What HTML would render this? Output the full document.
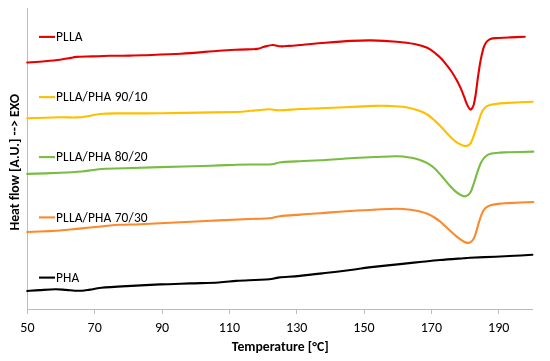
<!DOCTYPE html>
<html><head><meta charset="utf-8"><title>DSC</title>
<style>
html,body{margin:0;padding:0;background:#fff;}
svg{display:block;}
text{font-family:Carlito,"Liberation Sans",sans-serif;fill:#000;font-variant-ligatures:none;font-feature-settings:"liga" 0;}
</style></head>
<body>
<svg width="550" height="361" viewBox="0 0 550 361">
<rect width="550" height="361" fill="#fff"/>
<g stroke="#bcbcbc" stroke-width="1" shape-rendering="crispEdges">
<line x1="27.5" y1="8" x2="27.5" y2="310" />
<line x1="27" y1="309.5" x2="533" y2="309.5" />
<line x1="27.5" y1="309" x2="27.5" y2="314" />
<line x1="94.5" y1="309" x2="94.5" y2="314" />
<line x1="162.5" y1="309" x2="162.5" y2="314" />
<line x1="229.5" y1="309" x2="229.5" y2="314" />
<line x1="296.5" y1="309" x2="296.5" y2="314" />
<line x1="364.5" y1="309" x2="364.5" y2="314" />
<line x1="431.5" y1="309" x2="431.5" y2="314" />
<line x1="498.5" y1="309" x2="498.5" y2="314" />
</g>
<g font-size="14" text-anchor="middle">
<text x="27.4" y="331.6" textLength="14.2" lengthAdjust="spacingAndGlyphs">50</text>
<text x="94.7" y="331.6" textLength="14.2" lengthAdjust="spacingAndGlyphs">70</text>
<text x="162.1" y="331.6" textLength="14.2" lengthAdjust="spacingAndGlyphs">90</text>
<text x="229.4" y="331.6" textLength="21.3" lengthAdjust="spacingAndGlyphs">110</text>
<text x="296.7" y="331.6" textLength="21.3" lengthAdjust="spacingAndGlyphs">130</text>
<text x="364.0" y="331.6" textLength="21.3" lengthAdjust="spacingAndGlyphs">150</text>
<text x="431.4" y="331.6" textLength="21.3" lengthAdjust="spacingAndGlyphs">170</text>
<text x="498.7" y="331.6" textLength="21.3" lengthAdjust="spacingAndGlyphs">190</text>
</g>
<path d="M27.20,291.00 C29.33,290.85 35.28,290.38 40.00,290.10 C44.72,289.82 51.17,289.33 55.50,289.30 C59.83,289.27 62.17,289.65 66.00,289.90 C69.83,290.15 74.50,290.85 78.50,290.80 C82.50,290.75 86.18,290.10 90.00,289.60 C93.82,289.10 95.27,288.38 101.40,287.80 C107.53,287.22 117.03,286.67 126.80,286.10 C136.57,285.53 149.47,284.85 160.00,284.40 C170.53,283.95 180.25,283.72 190.00,283.40 C199.75,283.08 210.77,282.92 218.50,282.50 C226.23,282.08 230.32,281.32 236.40,280.90 C242.48,280.48 249.50,280.27 255.00,280.00 C260.50,279.73 265.30,279.73 269.40,279.30 C273.50,278.87 274.50,277.97 279.60,277.40 C284.70,276.83 292.05,276.67 300.00,275.90 C307.95,275.13 318.22,273.87 327.30,272.80 C336.38,271.73 347.55,270.40 354.50,269.50 C361.45,268.60 361.42,268.30 369.00,267.40 C376.58,266.50 391.50,265.00 400.00,264.10 C408.50,263.20 413.33,262.68 420.00,262.00 C426.67,261.32 432.73,260.63 440.00,260.00 C447.27,259.37 458.60,258.58 463.60,258.20 C468.60,257.82 464.68,257.95 470.00,257.70 C475.32,257.45 488.08,257.02 495.50,256.70 C502.92,256.38 508.35,256.12 514.50,255.80 C520.65,255.48 529.42,254.97 532.40,254.80" fill="none" stroke="#000000" stroke-width="2.1" stroke-linejoin="round" stroke-linecap="round"/>
<path d="M27.20,232.00 C31.00,231.85 44.53,231.35 50.00,231.10 C55.47,230.85 55.60,230.87 60.00,230.50 C64.40,230.13 71.85,229.35 76.40,228.90 C80.95,228.45 82.77,228.25 87.30,227.80 C91.83,227.35 98.15,226.70 103.60,226.20 C109.05,225.70 113.93,225.13 120.00,224.80 C126.07,224.47 132.50,224.50 140.00,224.20 C147.50,223.90 153.18,223.57 165.00,223.00 C176.82,222.43 196.90,221.47 210.90,220.80 C224.90,220.13 239.25,219.42 249.00,219.00 C258.75,218.58 264.30,218.77 269.40,218.30 C274.50,217.83 274.50,216.82 279.60,216.20 C284.70,215.58 293.18,215.08 300.00,214.60 C306.82,214.12 312.85,213.87 320.50,213.30 C328.15,212.73 336.82,211.82 345.90,211.20 C354.98,210.58 366.52,210.02 375.00,209.60 C383.48,209.18 390.63,208.63 396.80,208.70 C402.97,208.77 408.13,209.52 412.00,210.00 C415.87,210.48 417.45,210.97 420.00,211.60 C422.55,212.23 424.88,212.82 427.30,213.80 C429.72,214.78 432.32,216.17 434.50,217.50 C436.68,218.83 437.97,219.75 440.40,221.80 C442.83,223.85 446.43,227.37 449.10,229.80 C451.77,232.23 453.98,234.45 456.40,236.40 C458.82,238.35 461.55,240.42 463.60,241.50 C465.65,242.58 467.23,243.03 468.70,242.90 C470.17,242.77 471.30,242.03 472.40,240.70 C473.50,239.37 474.33,237.57 475.30,234.90 C476.27,232.23 477.12,228.22 478.20,224.70 C479.28,221.18 480.58,216.58 481.80,213.80 C483.02,211.02 483.92,209.45 485.50,208.00 C487.08,206.55 488.88,205.83 491.30,205.10 C493.72,204.37 497.13,203.93 500.00,203.60 C502.87,203.27 502.95,203.37 508.50,203.10 C514.05,202.83 529.17,202.18 533.30,202.00" fill="none" stroke="#fb8a2c" stroke-width="2.1" stroke-linejoin="round" stroke-linecap="round"/>
<path d="M27.20,173.90 C32.67,173.72 50.90,173.20 60.00,172.80 C69.10,172.40 76.35,171.97 81.80,171.50 C87.25,171.03 88.70,170.47 92.70,170.00 C96.70,169.53 100.42,168.98 105.80,168.70 C111.18,168.42 115.97,168.57 125.00,168.30 C134.03,168.03 145.68,167.52 160.00,167.10 C174.32,166.68 198.17,166.18 210.90,165.80 C223.63,165.42 229.05,165.02 236.40,164.80 C243.75,164.58 249.07,164.58 255.00,164.50 C260.93,164.42 267.90,164.63 272.00,164.30 C276.10,163.97 274.93,163.02 279.60,162.50 C284.27,161.98 293.18,161.57 300.00,161.20 C306.82,160.83 312.85,160.75 320.50,160.30 C328.15,159.85 336.82,159.05 345.90,158.50 C354.98,157.95 366.52,157.38 375.00,157.00 C383.48,156.62 390.97,156.12 396.80,156.20 C402.63,156.28 406.13,156.88 410.00,157.50 C413.87,158.12 417.12,158.97 420.00,159.90 C422.88,160.83 424.88,161.72 427.30,163.10 C429.72,164.48 432.08,166.02 434.50,168.20 C436.92,170.38 439.37,173.42 441.80,176.20 C444.23,178.98 446.67,182.23 449.10,184.90 C451.53,187.57 453.98,190.30 456.40,192.20 C458.82,194.10 461.67,195.82 463.60,196.30 C465.53,196.78 466.78,195.90 468.00,195.10 C469.22,194.30 469.93,193.43 470.90,191.50 C471.87,189.57 472.70,186.78 473.80,183.50 C474.90,180.22 476.28,175.32 477.50,171.80 C478.72,168.28 479.77,164.95 481.10,162.40 C482.43,159.85 483.80,157.97 485.50,156.50 C487.20,155.03 488.88,154.25 491.30,153.60 C493.72,152.95 497.13,152.82 500.00,152.60 C502.87,152.38 502.95,152.47 508.50,152.30 C514.05,152.13 529.17,151.72 533.30,151.60" fill="none" stroke="#78bc42" stroke-width="2.1" stroke-linejoin="round" stroke-linecap="round"/>
<path d="M27.20,118.20 C32.67,118.05 51.80,117.43 60.00,117.30 C68.20,117.17 71.85,117.58 76.40,117.40 C80.95,117.22 84.22,116.63 87.30,116.20 C90.38,115.77 92.18,115.22 94.90,114.80 C97.62,114.38 99.42,113.93 103.60,113.70 C107.78,113.47 110.60,113.47 120.00,113.40 C129.40,113.33 146.97,113.43 160.00,113.30 C173.03,113.17 185.47,112.82 198.20,112.60 C210.93,112.38 228.35,112.22 236.40,112.00 C244.45,111.78 243.12,111.58 246.50,111.30 C249.88,111.02 252.88,110.63 256.70,110.30 C260.52,109.97 265.58,109.30 269.40,109.30 C273.22,109.30 274.50,110.35 279.60,110.30 C284.70,110.25 293.18,109.35 300.00,109.00 C306.82,108.65 313.00,108.50 320.50,108.20 C328.00,107.90 335.92,107.58 345.00,107.20 C354.08,106.82 367.92,106.12 375.00,105.90 C382.08,105.68 382.52,105.72 387.50,105.90 C392.48,106.08 399.48,106.17 404.90,107.00 C410.32,107.83 416.27,109.65 420.00,110.90 C423.73,112.15 424.88,112.92 427.30,114.50 C429.72,116.08 432.08,118.22 434.50,120.40 C436.92,122.58 439.37,125.07 441.80,127.60 C444.23,130.13 446.67,133.17 449.10,135.60 C451.53,138.03 453.98,140.50 456.40,142.20 C458.82,143.90 461.67,145.27 463.60,145.80 C465.53,146.33 466.78,145.88 468.00,145.40 C469.22,144.92 469.93,144.53 470.90,142.90 C471.87,141.27 472.70,138.63 473.80,135.60 C474.90,132.57 476.28,128.33 477.50,124.70 C478.72,121.07 479.90,116.58 481.10,113.80 C482.30,111.02 483.25,109.45 484.70,108.00 C486.15,106.55 487.25,105.87 489.80,105.10 C492.35,104.33 496.88,103.77 500.00,103.40 C503.12,103.03 503.05,103.18 508.50,102.90 C513.95,102.62 528.67,101.90 532.70,101.70" fill="none" stroke="#ffbf00" stroke-width="2.1" stroke-linejoin="round" stroke-linecap="round"/>
<path d="M27.20,62.50 C30.17,62.28 39.53,61.67 45.00,61.20 C50.47,60.73 55.68,60.25 60.00,59.70 C64.32,59.15 68.17,58.37 70.90,57.90 C73.63,57.43 72.77,57.15 76.40,56.90 C80.03,56.65 87.25,56.58 92.70,56.40 C98.15,56.22 104.55,55.92 109.10,55.80 C113.65,55.68 116.52,55.73 120.00,55.70 C123.48,55.67 126.17,55.68 130.00,55.60 C133.83,55.52 134.52,55.50 143.00,55.20 C151.48,54.90 168.23,54.55 180.90,53.80 C193.57,53.05 209.15,51.40 219.00,50.70 C228.85,50.00 233.62,49.90 240.00,49.60 C246.38,49.30 253.30,49.37 257.30,48.90 C261.30,48.43 261.43,47.45 264.00,46.80 C266.57,46.15 269.97,45.08 272.70,45.00 C275.43,44.92 277.67,46.15 280.40,46.30 C283.13,46.45 285.83,46.12 289.10,45.90 C292.37,45.68 293.95,45.53 300.00,45.00 C306.05,44.47 316.92,43.38 325.40,42.70 C333.88,42.02 343.27,41.28 350.90,40.90 C358.53,40.52 363.57,40.27 371.20,40.40 C378.83,40.53 389.48,41.10 396.70,41.70 C403.92,42.30 409.42,42.98 414.50,44.00 C419.58,45.02 423.62,46.17 427.20,47.80 C430.78,49.43 433.67,52.00 436.00,53.80 C438.33,55.60 439.48,56.80 441.20,58.60 C442.92,60.40 444.58,62.45 446.30,64.60 C448.02,66.75 449.78,68.93 451.50,71.50 C453.22,74.07 455.03,77.15 456.60,80.00 C458.17,82.85 459.62,85.73 460.90,88.60 C462.18,91.47 463.30,94.62 464.30,97.20 C465.30,99.78 465.92,102.05 466.90,104.10 C467.88,106.15 469.33,108.83 470.20,109.50 C471.07,110.17 471.50,108.93 472.10,108.10 C472.70,107.27 473.22,106.68 473.80,104.50 C474.38,102.32 474.92,99.47 475.60,95.00 C476.28,90.53 477.10,83.28 477.90,77.70 C478.70,72.12 479.50,66.35 480.40,61.50 C481.30,56.65 482.43,51.63 483.30,48.60 C484.17,45.57 484.72,44.73 485.60,43.30 C486.48,41.87 487.43,40.82 488.60,40.00 C489.77,39.18 491.03,38.73 492.60,38.40 C494.17,38.07 495.10,38.17 498.00,38.00 C500.90,37.83 505.53,37.62 510.00,37.40 C514.47,37.18 522.33,36.82 524.80,36.70" fill="none" stroke="#e60000" stroke-width="2.1" stroke-linejoin="round" stroke-linecap="round"/>

<g font-size="13.4" letter-spacing="0.17">
<line x1="39" y1="36.9" x2="55" y2="36.9" stroke="#e60000" stroke-width="2.1"/>
<text x="56" y="41.0" textLength="26.61" lengthAdjust="spacingAndGlyphs">PLLA</text>
<line x1="39" y1="97.1" x2="55" y2="97.1" stroke="#ffbf00" stroke-width="2.1"/>
<text x="56" y="101.0" textLength="91.84" lengthAdjust="spacingAndGlyphs">PLLA/PHA 90/10</text>
<line x1="39" y1="157.1" x2="55" y2="157.1" stroke="#78bc42" stroke-width="2.1"/>
<text x="56" y="161.0" textLength="91.84" lengthAdjust="spacingAndGlyphs">PLLA/PHA 80/20</text>
<line x1="39" y1="217.4" x2="55" y2="217.4" stroke="#fb8a2c" stroke-width="2.1"/>
<text x="56" y="222.0" textLength="91.84" lengthAdjust="spacingAndGlyphs">PLLA/PHA 70/30</text>
<line x1="39" y1="277.6" x2="55" y2="277.6" stroke="#000000" stroke-width="2.1"/>
<text x="56" y="282.0" textLength="23.53" lengthAdjust="spacingAndGlyphs">PHA</text>
</g>
<text x="280.2" y="351" font-size="13.6" font-weight="bold" text-anchor="middle" textLength="96.8" lengthAdjust="spacingAndGlyphs">Temperature [°C]</text>
<text transform="translate(19,162.2) rotate(-90)" x="0" y="0" font-size="13.75" font-weight="bold" text-anchor="middle" textLength="136.6" lengthAdjust="spacingAndGlyphs">Heat flow [A.U.] --&gt; EXO</text>
</svg>
</body></html>
